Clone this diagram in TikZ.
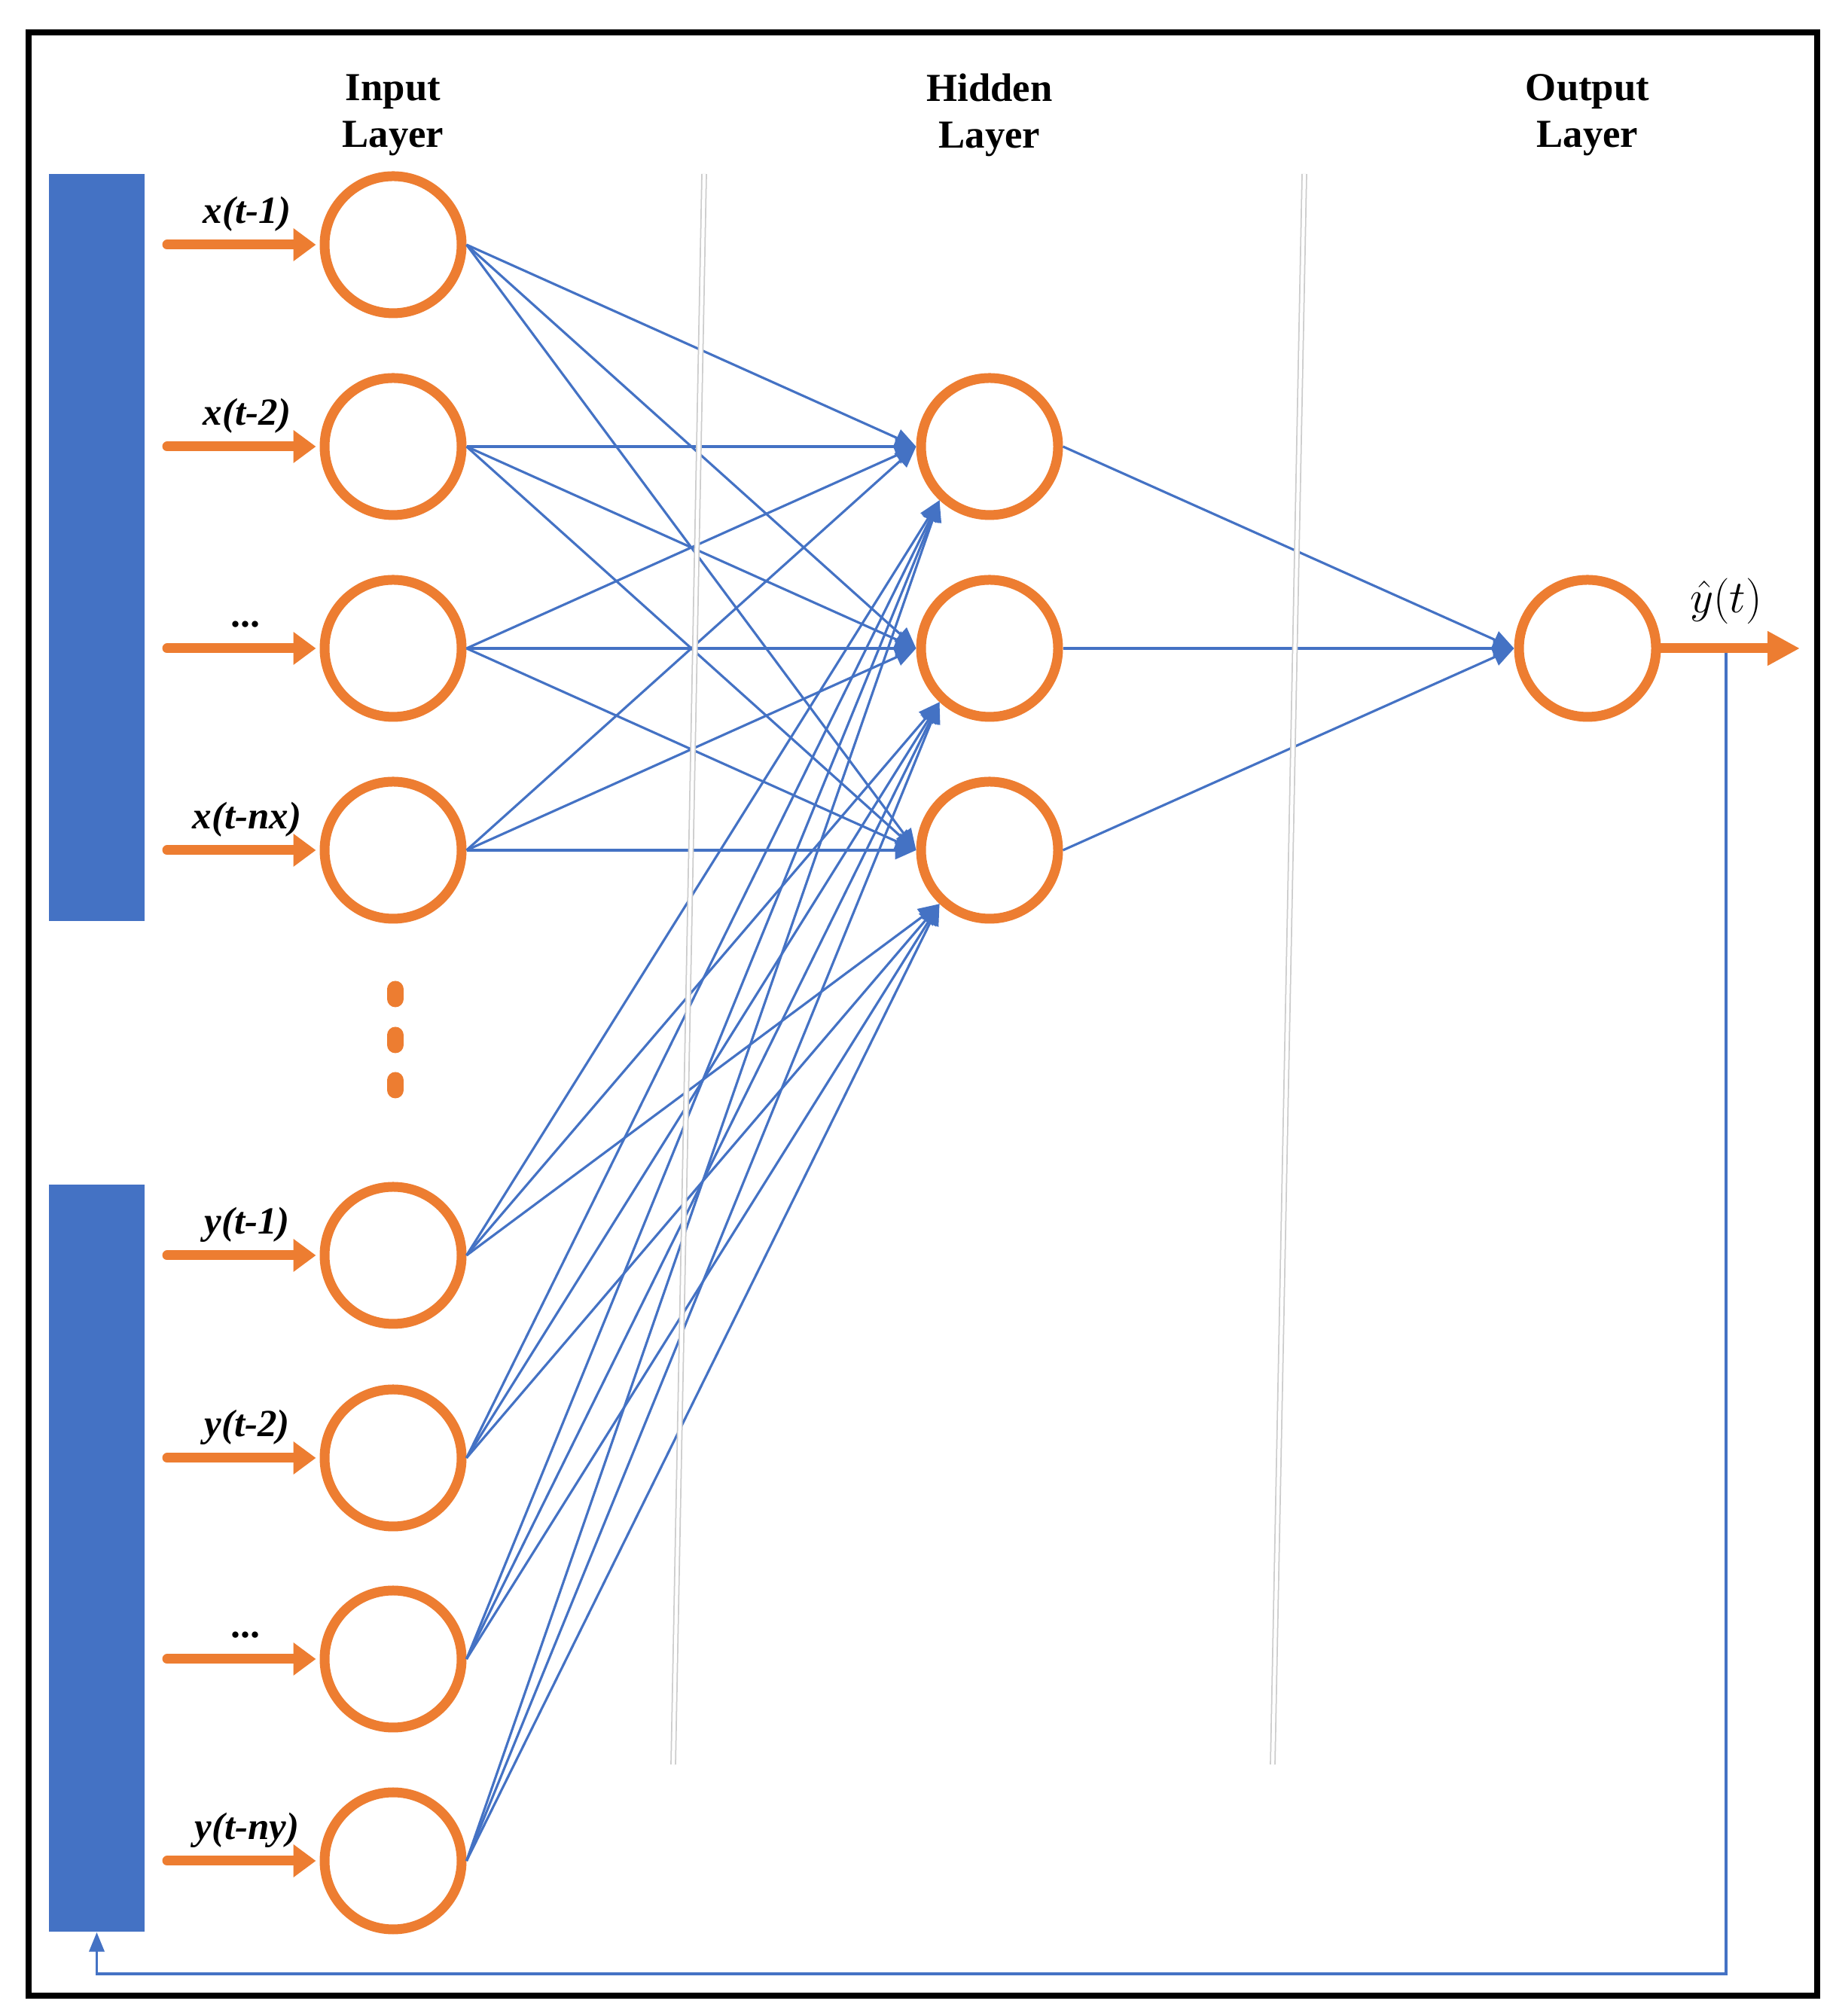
\documentclass[tikz,border=0pt]{standalone}
\usepackage{fontspec}
\setmainfont{Liberation Serif}
\usetikzlibrary{arrows.meta,calc}

\definecolor{nnblue}{HTML}{4472C4}
\definecolor{nnorange}{HTML}{ED7D31}

\tikzset{
    neuron/.style = {circle, draw=nnorange, line width=3.7pt, fill=white, minimum size=1.82cm, inner sep=0pt},
    feed/.style   = {draw=nnorange, line width=3.7pt, line cap=round, -{Triangle[length=3mm,width=4.2mm]}},
    wire/.style   = {draw=nnblue, line width=0.9pt, -{Triangle[length=2.8mm,width=2.4mm]}},
    back/.style   = {draw=nnblue, line width=1.1pt, -{Triangle[length=2.6mm,width=2mm]}},
    bar/.style    = {fill=nnblue, draw=none, inner sep=0pt, minimum width=1.27cm, minimum height=9.92cm},
    sepline/.style = {draw=black!20, double=white, double distance=1.2pt, line width=0.5pt},
    layer/.style  = {font=\fontsize{15}{17.6}\selectfont\bfseries, align=center},
    lag/.style    = {font=\fontsize{14.5}{17}\selectfont\bfseries\itshape, anchor=base}
}

\begin{document}
\begin{tikzpicture}
    \useasboundingbox (0,0) rectangle (24.37,26.77);
    \draw[line width=2.5pt] (0.38,0.27) rectangle (24.13,26.34);

    \node[layer] (tin)  at (5.22,25.24)  {Input\\Layer};
    \node[layer] (thid) at (13.14,25.24) {Hidden\\Layer};
    \node[layer] (tout) at (21.08,25.24) {Output\\Layer};

    \node[bar] (xbar) at (1.285,19.50) {};
    \node[bar] (ybar) at (1.285,6.08) {};

    \node[neuron] (x1) at (5.22,23.52) {};
    \node[neuron] (x2) at (5.22,20.84) {};
    \node[neuron] (x3) at (5.22,18.16) {};
    \node[neuron] (x4) at (5.22,15.48) {};
    \node[neuron] (y1) at (5.22,10.10) {};
    \node[neuron] (y2) at (5.22,7.41) {};
    \node[neuron] (y3) at (5.22,4.74) {};
    \node[neuron] (y4) at (5.22,2.06) {};

    \node[neuron] (h1) at (13.14,20.84) {};
    \node[neuron] (h2) at (13.14,18.16) {};
    \node[neuron] (h3) at (13.14,15.48) {};

    \node[neuron] (out) at (21.08,18.16) {};

    \node[lag] (lx1) at (3.28,23.80) {x(t-1)};
    \node[lag] (lx2) at (3.28,21.12) {x(t-2)};
    \node[lag] (lx3) at (3.28,18.44) {...};
    \node[lag] (lx4) at (3.28,15.76) {x(t-nx)};
    \node[lag] (ly1) at (3.28,10.38) {y(t-1)};
    \node[lag] (ly2) at (3.28,7.69)  {y(t-2)};
    \node[lag] (ly3) at (3.28,5.02)  {...};
    \node[lag] (ly4) at (3.28,2.34)  {y(t-ny)};

    \foreach \n in {x1,x2,x3,x4,y1,y2,y3,y4}{
        \coordinate (s\n) at ($(\n)+(-3.0,0)$);
        \draw[feed, shorten >=0.5mm] (s\n) -- (\n.west);
    }

    \foreach \d in {13.57,12.96,12.36}
        \draw[draw=nnorange, line width=2.2mm, line cap=round] (5.25,\d+0.065) -- (5.25,\d-0.065);

    \foreach \s in {x1,x2,x3,x4}
        \foreach \t in {h1,h2,h3}
            \draw[wire] (\s.east) -- (\t.west);
    \foreach \s in {y1,y2,y3,y4}
        \foreach \t in {h1,h2,h3}
            \draw[wire] (\s.east) -- (\t.227);
    \foreach \t in {h1,h2,h3}
        \draw[wire] (\t.east) -- (out.west);

    \draw[sepline] (9.35,24.46) -- (8.94,3.34);
    \draw[sepline] (17.32,24.46) -- (16.90,3.34);

    \coordinate (fb) at (22.92,18.16);
    \coordinate (yend) at (23.90,18.16);
    \draw[back] (fb) |- ([yshift=-5.5mm]ybar.south) -- (ybar.south);
    \draw[feed, -{Triangle[length=4.3mm,width=4.3mm]}] (out.east) -- (yend);
    \node[anchor=south] (yhat) at (22.92,18.36) {\fontsize{17}{20}\selectfont$\hat{y}(t)$};
\end{tikzpicture}
\end{document}
